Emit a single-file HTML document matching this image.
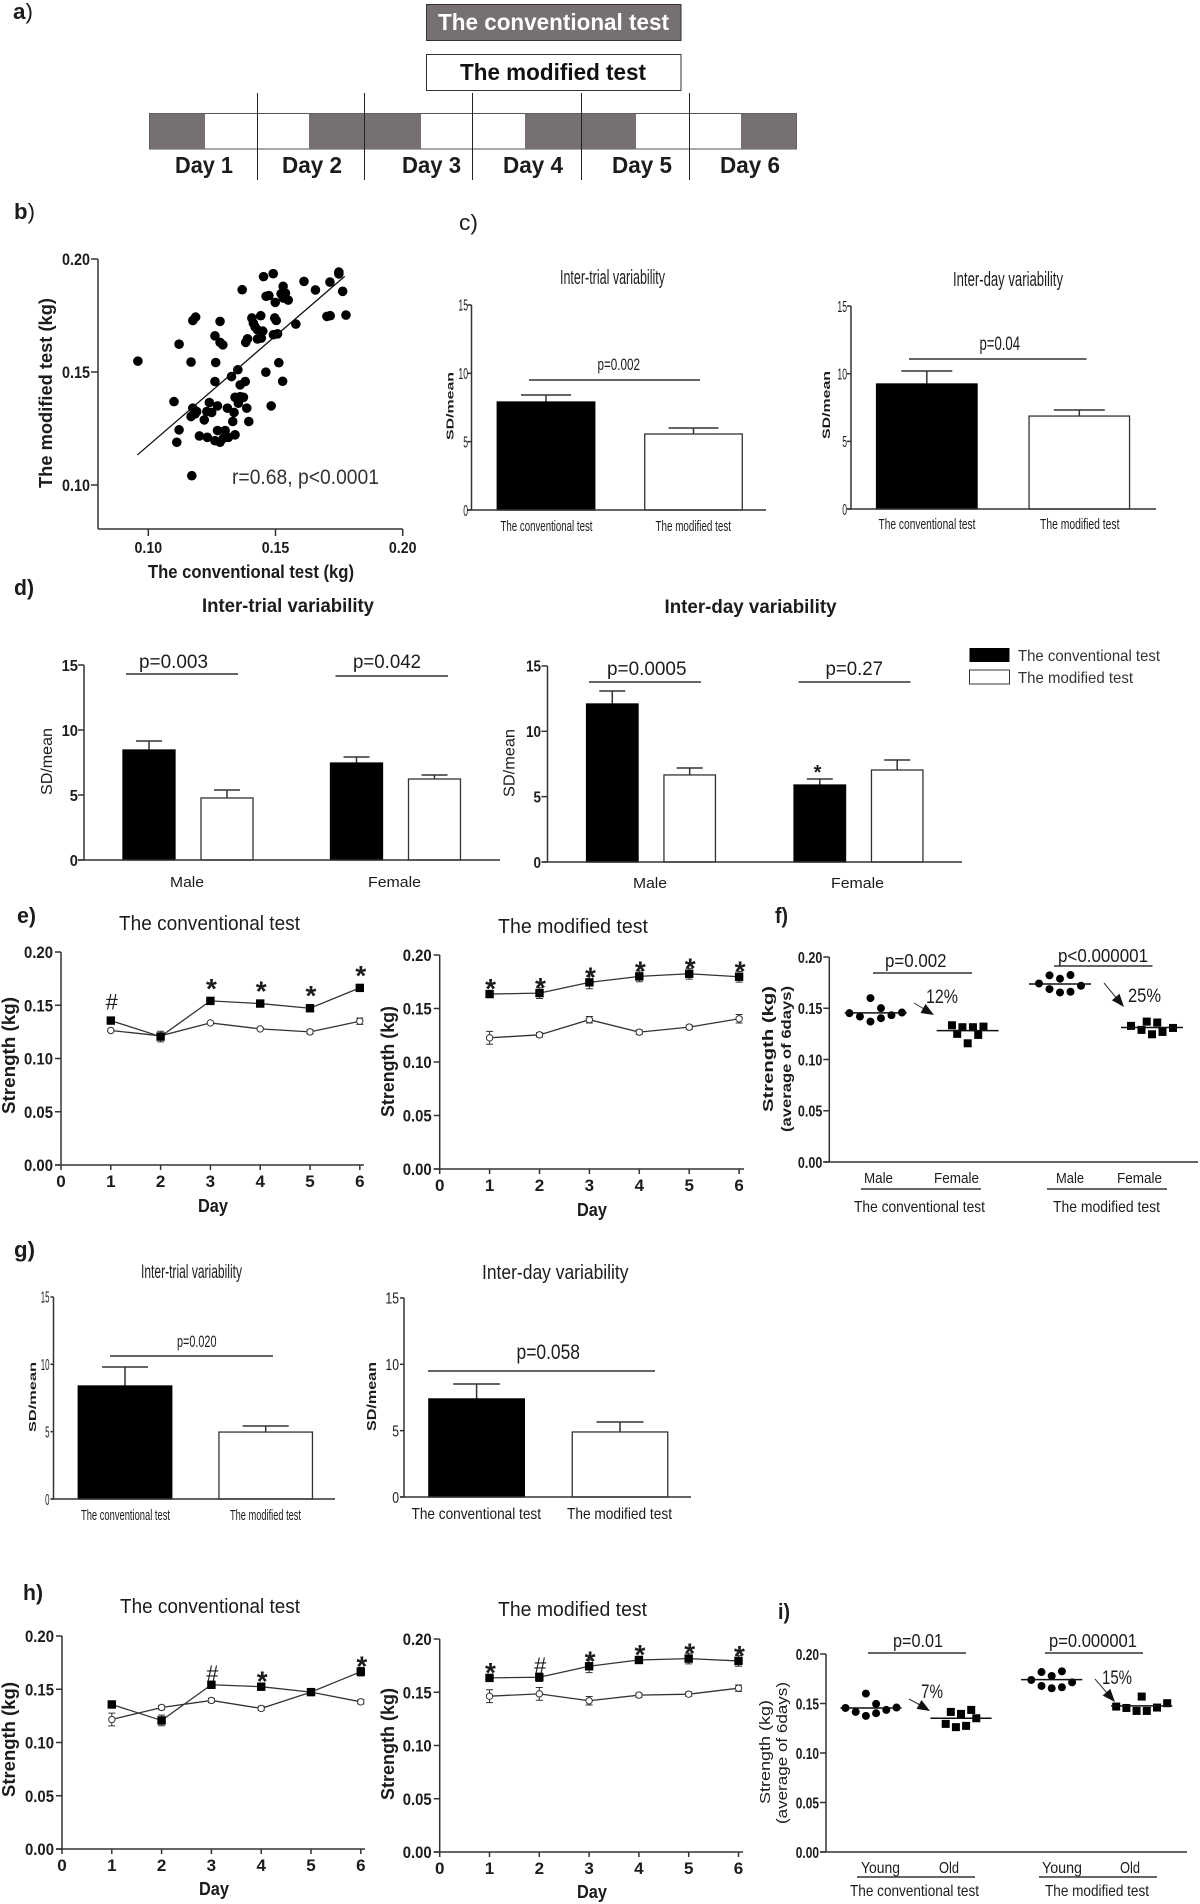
<!DOCTYPE html>
<html lang="en">
<head>
<meta charset="utf-8">
<title>Strength test variability figure</title>
<style>
html,body{margin:0;padding:0;background:#fff;}
svg{display:block;filter:blur(0.35px);}
text{font-family:"Liberation Sans",sans-serif;fill:#1c1c1c;}
.b{font-weight:bold;}
.ln{stroke:#333;stroke-width:1.5;fill:none;}
</style>
</head>
<body>
<svg id="figure" xmlns="http://www.w3.org/2000/svg" width="1200" height="1904" viewBox="0 0 1200 1904">
<rect x="0" y="0" width="1200" height="1904" fill="#fff"/>

<g id="panel-a">
<text x="13" y="19" font-size="22" textLength="20" lengthAdjust="spacingAndGlyphs"><tspan class="b">a</tspan>)</text>
<rect x="426.500" y="4.500" width="254.500" height="36" fill="#767070" stroke="#333" stroke-width="1"/>
<text class="b" x="438" y="30" font-size="23" textLength="231" lengthAdjust="spacingAndGlyphs" style="fill:#fff">The conventional test</text>
<rect x="426.500" y="54.500" width="254.500" height="36" fill="#fff" stroke="#333" stroke-width="1"/>
<text class="b" x="460" y="80" font-size="23" textLength="186" lengthAdjust="spacingAndGlyphs" style="fill:#111">The modified test</text>
<rect x="149.500" y="113.500" width="647" height="35.500" fill="#fff" stroke="#555" stroke-width="1"/>
<rect x="149.500" y="113.500" width="55.500" height="35.500" fill="#767070"/>
<rect x="309" y="113.500" width="112" height="35.500" fill="#767070"/>
<rect x="525" y="113.500" width="111" height="35.500" fill="#767070"/>
<rect x="741" y="113.500" width="55.500" height="35.500" fill="#767070"/>
<path d="M257.500 93V180M364.500 93V180M472.500 93V180M581.500 93V180M689.500 93V180" stroke="#222" stroke-width="1" fill="none"/>
<text class="b" x="175" y="173" font-size="23" textLength="58" lengthAdjust="spacingAndGlyphs">Day 1</text>
<text class="b" x="282" y="173" font-size="23" textLength="60" lengthAdjust="spacingAndGlyphs">Day 2</text>
<text class="b" x="402" y="173" font-size="23" textLength="59" lengthAdjust="spacingAndGlyphs">Day 3</text>
<text class="b" x="503" y="173" font-size="23" textLength="60" lengthAdjust="spacingAndGlyphs">Day 4</text>
<text class="b" x="612" y="173" font-size="23" textLength="60" lengthAdjust="spacingAndGlyphs">Day 5</text>
<text class="b" x="720" y="173" font-size="23" textLength="60" lengthAdjust="spacingAndGlyphs">Day 6</text>
</g>

<g id="panel-b">
<text x="14" y="219" font-size="22" textLength="21" lengthAdjust="spacingAndGlyphs"><tspan class="b">b</tspan>)</text>
<text x="232" y="484" font-size="21" textLength="147" lengthAdjust="spacingAndGlyphs" style="fill:#333">r=0.68, p&lt;0.0001</text>
<text class="b" x="148" y="578" font-size="18" textLength="206" lengthAdjust="spacingAndGlyphs">The conventional test (kg)</text>
<text class="b" transform="translate(52,488) rotate(-90)" font-size="18" textLength="190" lengthAdjust="spacingAndGlyphs">The modified test (kg)</text>
</g>

<g id="panel-c">
<text x="459" y="230" font-size="22" textLength="19" lengthAdjust="spacingAndGlyphs">c)</text>
<text x="560" y="284" font-size="20" textLength="105" lengthAdjust="spacingAndGlyphs">Inter-trial variability</text>
<text x="953" y="286" font-size="20" textLength="110" lengthAdjust="spacingAndGlyphs">Inter-day variability</text>
<text x="597.500" y="370" font-size="17" textLength="42.500" lengthAdjust="spacingAndGlyphs">p=0.002</text>
<line class="ln" x1="529" x2="700" y1="380" y2="380"/>
<text x="979.500" y="350" font-size="19" textLength="40.500" lengthAdjust="spacingAndGlyphs">p=0.04</text>
<line class="ln" x1="909" x2="1086.500" y1="359" y2="359"/>
<text x="500.500" y="531" font-size="15" textLength="92" lengthAdjust="spacingAndGlyphs">The conventional test</text>
<text x="655.500" y="531" font-size="15" textLength="75.500" lengthAdjust="spacingAndGlyphs">The modified test</text>
<text x="878.500" y="529" font-size="15" textLength="97" lengthAdjust="spacingAndGlyphs">The conventional test</text>
<text x="1040" y="529" font-size="15" textLength="79.500" lengthAdjust="spacingAndGlyphs">The modified test</text>
<text class="b" transform="translate(453.500,440) rotate(-90)" font-size="10" textLength="68" lengthAdjust="spacingAndGlyphs">SD/mean</text>
<text class="b" transform="translate(830,439) rotate(-90)" font-size="11" textLength="68" lengthAdjust="spacingAndGlyphs">SD/mean</text>
</g>

<g id="panel-d">
<text class="b" x="14" y="595" font-size="22" textLength="20" lengthAdjust="spacingAndGlyphs">d)</text>
<text class="b" x="202" y="612" font-size="19" textLength="172" lengthAdjust="spacingAndGlyphs">Inter-trial variability</text>
<text class="b" x="664.500" y="613" font-size="19" textLength="172" lengthAdjust="spacingAndGlyphs">Inter-day variability</text>
<text x="139" y="668" font-size="19" textLength="69" lengthAdjust="spacingAndGlyphs">p=0.003</text>
<line class="ln" x1="126" x2="238" y1="674" y2="674"/>
<text x="353" y="668" font-size="19" textLength="68" lengthAdjust="spacingAndGlyphs">p=0.042</text>
<line class="ln" x1="335.500" x2="448" y1="676" y2="676"/>
<text x="170" y="887" font-size="15" textLength="34" lengthAdjust="spacingAndGlyphs">Male</text>
<text x="368" y="887" font-size="15" textLength="53" lengthAdjust="spacingAndGlyphs">Female</text>
<text transform="translate(52,795) rotate(-90)" font-size="16" textLength="67" lengthAdjust="spacingAndGlyphs">SD/mean</text>
<text x="607" y="675" font-size="19" textLength="79.500" lengthAdjust="spacingAndGlyphs">p=0.0005</text>
<line class="ln" x1="589" x2="701" y1="682" y2="682"/>
<text x="825.500" y="675" font-size="19" textLength="57.500" lengthAdjust="spacingAndGlyphs">p=0.27</text>
<line class="ln" x1="798.500" x2="910.500" y1="682" y2="682"/>
<text x="633" y="888" font-size="15" textLength="34" lengthAdjust="spacingAndGlyphs">Male</text>
<text x="831" y="888" font-size="15" textLength="53" lengthAdjust="spacingAndGlyphs">Female</text>
<text transform="translate(514.500,797) rotate(-90)" font-size="16" textLength="68" lengthAdjust="spacingAndGlyphs">SD/mean</text>
<text class="b" x="817.500" y="779" font-size="20" text-anchor="middle">*</text>
<rect x="969.500" y="648" width="40" height="14" fill="#000"/>
<text x="1018" y="661" font-size="16" textLength="142" lengthAdjust="spacingAndGlyphs" style="fill:#333">The conventional  test</text>
<rect x="969.500" y="670" width="40" height="14" fill="#fff" stroke="#333" stroke-width="1"/>
<text x="1018" y="683" font-size="16" textLength="115" lengthAdjust="spacingAndGlyphs" style="fill:#333">The modified test</text>
</g>

<g id="panel-e">
<text class="b" x="17" y="923" font-size="22" textLength="19" lengthAdjust="spacingAndGlyphs">e)</text>
<text x="119" y="930" font-size="20" textLength="181" lengthAdjust="spacingAndGlyphs">The conventional test</text>
<text class="b" x="198" y="1212" font-size="18" textLength="30" lengthAdjust="spacingAndGlyphs">Day</text>
<text class="b" transform="translate(15,1114) rotate(-90)" font-size="18" textLength="117" lengthAdjust="spacingAndGlyphs">Strength (kg)</text>
<text x="498" y="933" font-size="20" textLength="150" lengthAdjust="spacingAndGlyphs">The modified test</text>
<text class="b" x="577" y="1216" font-size="18" textLength="30" lengthAdjust="spacingAndGlyphs">Day</text>
<text class="b" transform="translate(394,1117) rotate(-90)" font-size="18" textLength="111" lengthAdjust="spacingAndGlyphs">Strength (kg)</text>
</g>

<g id="panel-f">
<text class="b" x="775" y="923" font-size="22" textLength="13" lengthAdjust="spacingAndGlyphs">f)</text>
<text x="885" y="967" font-size="18" textLength="61.500" lengthAdjust="spacingAndGlyphs">p=0.002</text>
<line class="ln" x1="873" x2="972" y1="973" y2="973"/>
<text x="1058" y="962" font-size="18" textLength="90" lengthAdjust="spacingAndGlyphs">p&lt;0.000001</text>
<line class="ln" x1="1054" x2="1152.500" y1="966" y2="966"/>
<text x="926" y="1003" font-size="19" textLength="32" lengthAdjust="spacingAndGlyphs">12%</text>
<line x1="914" y1="1003" x2="925" y2="1009.500" stroke="#333" stroke-width="1"/>
<polygon points="934,1015 925.500,1004 920.500,1013" fill="#111"/>
<text x="1128" y="1002" font-size="19" textLength="33" lengthAdjust="spacingAndGlyphs">25%</text>
<line x1="1104" y1="983" x2="1116" y2="997.500" stroke="#333" stroke-width="1"/>
<polygon points="1124,1007 1119.500,993.800 1111.900,1000.200" fill="#111"/>
<text x="864" y="1183" font-size="15" textLength="29" lengthAdjust="spacingAndGlyphs">Male</text>
<text x="934" y="1183" font-size="15" textLength="45" lengthAdjust="spacingAndGlyphs">Female</text>
<text x="1056" y="1183" font-size="15" textLength="28" lengthAdjust="spacingAndGlyphs">Male</text>
<text x="1117" y="1183" font-size="15" textLength="45" lengthAdjust="spacingAndGlyphs">Female</text>
<line class="ln" x1="861" x2="981" y1="1189" y2="1189"/>
<line class="ln" x1="1047" x2="1167" y1="1189" y2="1189"/>
<text x="854" y="1212" font-size="16" textLength="131" lengthAdjust="spacingAndGlyphs">The conventional test</text>
<text x="1053" y="1212" font-size="16" textLength="107" lengthAdjust="spacingAndGlyphs">The modified test</text>
<text class="b" transform="translate(773,1112) rotate(-90)" font-size="15" textLength="126" lengthAdjust="spacingAndGlyphs">Strength (kg)</text>
<text class="b" transform="translate(791,1132) rotate(-90)" font-size="14" textLength="146" lengthAdjust="spacingAndGlyphs">(average of 6days)</text>
</g>

<g id="panel-g">
<text class="b" x="14" y="1257" font-size="22" textLength="21" lengthAdjust="spacingAndGlyphs">g)</text>
<text x="141" y="1278" font-size="19" textLength="101" lengthAdjust="spacingAndGlyphs">Inter-trial variability</text>
<text x="482" y="1279" font-size="20" textLength="146.500" lengthAdjust="spacingAndGlyphs">Inter-day variability</text>
<text x="177" y="1347" font-size="17" textLength="39.500" lengthAdjust="spacingAndGlyphs">p=0.020</text>
<line class="ln" x1="110" x2="273" y1="1356" y2="1356"/>
<text x="516.500" y="1359" font-size="21" textLength="63.500" lengthAdjust="spacingAndGlyphs">p=0.058</text>
<line class="ln" x1="428" x2="655" y1="1371" y2="1371"/>
<text x="81" y="1520" font-size="15" textLength="89" lengthAdjust="spacingAndGlyphs">The conventional test</text>
<text x="230" y="1520" font-size="15" textLength="71" lengthAdjust="spacingAndGlyphs">The modified test</text>
<text x="411.500" y="1519" font-size="16" textLength="129.500" lengthAdjust="spacingAndGlyphs">The conventional test</text>
<text x="567" y="1519" font-size="16" textLength="105" lengthAdjust="spacingAndGlyphs">The modified test</text>
<text class="b" transform="translate(36,1432) rotate(-90)" font-size="10" textLength="70" lengthAdjust="spacingAndGlyphs">SD/mean</text>
<text class="b" transform="translate(376,1431) rotate(-90)" font-size="13" textLength="69" lengthAdjust="spacingAndGlyphs">SD/mean</text>
</g>

<g id="panel-h">
<text class="b" x="23" y="1600" font-size="22" textLength="20" lengthAdjust="spacingAndGlyphs">h)</text>
<text x="120" y="1613" font-size="20" textLength="180" lengthAdjust="spacingAndGlyphs">The conventional test</text>
<text class="b" x="199" y="1895" font-size="18" textLength="30" lengthAdjust="spacingAndGlyphs">Day</text>
<text class="b" transform="translate(15,1797) rotate(-90)" font-size="18" textLength="115" lengthAdjust="spacingAndGlyphs">Strength (kg)</text>
<text x="498" y="1616" font-size="20" textLength="149" lengthAdjust="spacingAndGlyphs">The modified test</text>
<text class="b" x="577" y="1898" font-size="18" textLength="30" lengthAdjust="spacingAndGlyphs">Day</text>
<text class="b" transform="translate(394,1800) rotate(-90)" font-size="18" textLength="112" lengthAdjust="spacingAndGlyphs">Strength (kg)</text>
</g>

<g id="panel-i">
<text class="b" x="778" y="1619" font-size="22" textLength="12" lengthAdjust="spacingAndGlyphs">i)</text>
<text x="893" y="1647" font-size="18" textLength="50" lengthAdjust="spacingAndGlyphs">p=0.01</text>
<line class="ln" x1="868" x2="966" y1="1653" y2="1653"/>
<text x="1049" y="1647" font-size="18" textLength="88" lengthAdjust="spacingAndGlyphs">p=0.000001</text>
<line class="ln" x1="1045" x2="1143" y1="1653" y2="1653"/>
<text x="921" y="1698" font-size="19" textLength="22" lengthAdjust="spacingAndGlyphs">7%</text>
<line x1="909" y1="1699" x2="920" y2="1705" stroke="#333" stroke-width="1"/>
<polygon points="930,1711 921.500,1700 916.500,1708.900" fill="#111"/>
<text x="1102" y="1684" font-size="19" textLength="30" lengthAdjust="spacingAndGlyphs">15%</text>
<line x1="1095" y1="1679" x2="1107" y2="1693" stroke="#333" stroke-width="1"/>
<polygon points="1115,1702 1110.300,1688.900 1102.700,1695.500" fill="#111"/>
<text x="861" y="1873" font-size="16" textLength="39" lengthAdjust="spacingAndGlyphs">Young</text>
<text x="939" y="1873" font-size="16" textLength="20" lengthAdjust="spacingAndGlyphs">Old</text>
<text x="1042" y="1873" font-size="16" textLength="40" lengthAdjust="spacingAndGlyphs">Young</text>
<text x="1120" y="1873" font-size="16" textLength="20" lengthAdjust="spacingAndGlyphs">Old</text>
<line class="ln" x1="857" x2="975" y1="1877" y2="1877"/>
<line class="ln" x1="1039" x2="1157" y1="1877" y2="1877"/>
<text x="850" y="1896" font-size="16" textLength="129" lengthAdjust="spacingAndGlyphs">The conventional test</text>
<text x="1045" y="1896" font-size="16" textLength="104" lengthAdjust="spacingAndGlyphs">The modified test</text>
<text transform="translate(770,1804) rotate(-90)" font-size="15" textLength="104" lengthAdjust="spacingAndGlyphs">Strength (kg)</text>
<text transform="translate(787,1824) rotate(-90)" font-size="15" textLength="142" lengthAdjust="spacingAndGlyphs">(average of 6days)</text>
</g>
</svg>

<script>
/* ---------- panel b ---------- */
const bConventional = [.0959,.1171,.1101,.1121,.1168,.1175,.1186,.1112,.1121,.1168,.1175,.1190,.1184,.1201,.1232,.1220,.1230,.1249,.1240,.1272,.1262,.1265,.1262,.1282,.1282,.1293,.1272,.1302,.1262,.1282,.1295,.1315,.1341,.1311,.1337,.1332,.1327,.1352,.1361,.1381,.1341,.1354,.1361,.1374,.1387,.1395,.1483,.1462,.1513,.1528,.1369,.1383,.1390,.1407,.1413,.1420,.1429,.1450,.1429,.1444,.1442,.1453,.1491,.1463,.1474,.1499,.1497,.1503,.1492,.1508,.1530,.1522,.1539,.1550,.1531,.1580,.1612,.1657,.1714,.1749,.1749,.1764,.1702,.1715,.1777];
const bModified = [.1548,.1041,.1369,.1623,.1544,.1728,.1743,.1189,.1244,.1303,.1340,.1325,.1315,.1217,.1211,.1288,.1325,.1321,.1365,.1350,.1458,.1542,.1660,.1724,.1631,.1620,.1241,.1241,.1196,.1189,.1207,.1211,.1222,.1340,.1321,.1281,.1480,.1510,.1443,.1458,.1388,.1362,.1391,.1388,.1340,.1281,.1350,.1499,.1541,.1459,.1864,.1631,.1647,.1739,.1716,.1699,.1687,.1681,.1646,.1650,.1749,.1922,.1935,.1835,.1838,.1808,.1739,.1728,.1665,.1669,.1879,.1846,.1849,.1818,.1827,.1712,.1901,.1863,.1898,.1942,.1934,.1857,.1746,.1749,.1752];
const bFitX = [.0957,.1772];
const bFitY = [.1133,.1923];
const bTicks = [.10,.15,.20];

/* ---------- panel c ---------- */
const barTicks = [0,5,10,15];
const c1Means = [7.9,5.56];
const c1Errors = [0.51,0.44];
const c2Means = [9.24,6.87];
const c2Errors = [0.96,0.45];

/* ---------- panel d ---------- */
const d1Means = [8.46,4.77,7.46,6.23];
const d1Errors = [0.69,0.61,0.46,0.31];
const d2Means = [12.09,6.66,5.89,7.04];
const d2Errors = [0.99,0.53,0.46,0.76];

/* ---------- panel g ---------- */
const g1Means = [8.39,4.97];
const g1Errors = [1.41,0.45];
const g2Means = [7.39,4.9];
const g2Errors = [1.13,0.75];

/* ---------- line charts ---------- */
const days = [1,2,3,4,5,6];
const dayTicks = [0,1,2,3,4,5,6];
const strengthTicks = [0,0.05,0.10,0.15,0.20];

const e1Filled = [.1356,.1206,.1541,.1516,.1472,.1663];
const e1FilledErr = [.001,.005,.002,.001,.001,.001];
const e1Open = [.1263,.1213,.1334,.1278,.125,.135];
const e1OpenErr = [.001,.002,.001,.001,.002,.003];
const e1Marks = ['#','','*','*','*','*'];

const e2Filled = [.1635,.1644,.1744,.18,.1825,.1797];
const e2FilledErr = [.002,.005,.006,.005,.005,.005];
const e2Open = [.1226,.1254,.1395,.1279,.1326,.1404];
const e2OpenErr = [.006,.002,.003,.002,.002,.004];
const e2Marks = ['*','*','*','*','*','*'];

const h1Filled = [.1357,.1207,.1542,.1524,.1473,.1665];
const h1FilledErr = [.001,.005,.002,.002,.001,.004];
const h1Open = [.1216,.1329,.1395,.132,.1473,.1382];
const h1OpenErr = [.006,.002,.002,.002,.001,.002];
const h1Marks = ['','','#','*','','*'];

const h2Filled = [.1635,.1641,.1744,.1803,.1816,.1794];
const h2FilledErr = [.002,.004,.006,.003,.005,.005];
const h2Open = [.1463,.1485,.142,.1473,.1482,.1538];
const h2OpenErr = [.006,.006,.004,.002,.002,.003];
const h2Marks = ['*','#','*','*','*','*'];

/* ---------- swarm charts ---------- */
const fConvMale = [.1452,.1419,.1599,.137,.1501,.1403,.1432,.1458];
const fConvFemale = [.1334,.125,.1315,.1158,.1315,.124,.1321];
const fModMale = [.1742,.1821,.1687,.1788,.1654,.1824,.1661,.1719];
const fModFemale = [.1328,.1289,.137,.1246,.1361,.1269,.1308];
const fMedians = [.1455,.1282,.1736,.1312];

const iConvYoung = [.1455,.1415,.16,.1375,.1496,.1402,.1435,.1459];
const iConvOld = [.1294,.1415,.1261,.1395,.1274,.1435,.1351];
const iModYoung = [.1738,.1818,.1677,.1778,.1654,.1825,.1664,.1714];
const iModOld = [.1469,.1455,.1425,.157,.1425,.1459,.1503];
const iMedians = [.1455,.1351,.1741,.1476];

/* swarm column slots (beeswarm order within each group) */
const swarmEven = [-5,-3,-1,-1,1,1,3,5];
const swarmSeven = [-3,-2,-1,0,1,2,3];
const swarmSpread = [-4,-2,-2,0,0,2,2,4];
const fModFemaleSlots = [-4,-2,-1,0,1,2,4];
const iModOldSlots = [-5,-3,-1,0,1,3,5];

/* ---------- drawing helpers ---------- */
const SVGNS = 'http://www.w3.org/2000/svg';
function svgEl(tag, attrs, parent) {
  const el = document.createElementNS(SVGNS, tag);
  for (const k in attrs) el.setAttribute(k, attrs[k]);
  parent.appendChild(el);
  return el;
}
function panel(id) { return document.getElementById(id); }

function drawLabel(parent, str, x, y, opt, name) {
  const attrs = { x: x, y: y, 'font-size': opt.size, 'text-anchor': opt.anchor };
  if (opt.charW) {
    attrs.textLength = opt.charW * str.length;
    attrs.lengthAdjust = 'spacingAndGlyphs';
  }
  if (opt.bold) attrs['font-weight'] = 'bold';
  const label = svgEl('text', attrs, parent);
  
  
  label.textContent = str;
  return label;
}

function drawYAxis(parent, prefix, ticks, yOf, fmt, o) {
  const axis = svgEl('line', { class: 'ln', x1: o.x, x2: o.x, y1: yOf(ticks[ticks.length - 1]), y2: yOf(ticks[0]) }, parent);
  
  
  ticks.forEach(function (v) {
    const y = yOf(v);
    const tick = svgEl('line', { class: 'ln', x1: o.x - o.len, x2: o.x, y1: y, y2: y }, parent);
    
    
    drawLabel(parent, fmt(v), o.right, y + o.size * 0.36, { size: o.size, anchor: 'end', charW: o.charW, bold: o.bold }, prefix + '-y-tick-label');
  });
}

function drawBarChart(prefix, parentId, means, errors, o) {
  const parent = panel(parentId);
  const yOf = function (v) { return o.y0 - v * o.unit; };
  drawYAxis(parent, prefix, barTicks, yOf, String, { x: o.x, len: o.tickLen, right: o.right, size: o.size, charW: o.charW, bold: o.bold });
  means.forEach(function (m, i) {
    const cx = o.xOf(i);
    const filled = o.isFilled(i);
    const errLine = svgEl('path', { class: 'ln', d: 'M' + (cx - o.cap) + ' ' + yOf(m + errors[i]) + 'H' + (cx + o.cap) + 'M' + cx + ' ' + yOf(m + errors[i]) + 'V' + yOf(m) }, parent);
    
    
    const bar = svgEl('rect', { x: cx - o.w / 2, y: yOf(m), width: o.w, height: o.y0 - yOf(m), fill: filled ? '#000' : '#fff', stroke: filled ? '#000' : '#333', 'stroke-width': 1.3 }, parent);
    
    
  });
  const baseLine = svgEl('line', { class: 'ln', x1: o.x - o.tickLen, x2: o.xEnd, y1: o.y0, y2: o.y0 }, parent);
  
  
}

function drawLineChart(prefix, parentId, filled, filledErr, open, openErr, marks, o) {
  const parent = panel(parentId);
  const xOf = function (d) { return o.x0 + d * o.step; };
  const yOf = function (v) { return o.y0 - v * o.scale; };
  drawYAxis(parent, prefix, strengthTicks, yOf, function (v) { return v.toFixed(2); }, { x: o.x0, len: 6, right: o.x0 - 8, size: 17, charW: 7.25, bold: true });
  const xAxis = svgEl('line', { class: 'ln', x1: o.x0 - 6, x2: o.xEnd, y1: o.y0, y2: o.y0 }, parent);
  
  
  dayTicks.forEach(function (d) {
    const tick = svgEl('line', { class: 'ln', x1: xOf(d), x2: xOf(d), y1: o.y0, y2: o.y0 + 5 }, parent);
    
    
    drawLabel(parent, String(d), xOf(d), o.y0 + 22, { size: 17, anchor: 'middle', bold: true }, prefix + '-x-tick-label');
  });
  function series(values, errs, isFilled) {
    const points = days.map(function (d, i) { return xOf(d) + ',' + yOf(values[i]); }).join(' ');
    const path = svgEl('polyline', { points: points, fill: 'none', stroke: '#333', 'stroke-width': 1.3 }, parent);
    
    
    days.forEach(function (d, i) {
      const x = xOf(d);
      const hi = yOf(values[i] + errs[i]);
      const lo = yOf(values[i] - errs[i]);
      const err = svgEl('path', { d: 'M' + (x - 3.5) + ' ' + hi + 'H' + (x + 3.5) + 'M' + x + ' ' + hi + 'V' + lo + 'M' + (x - 3.5) + ' ' + lo + 'H' + (x + 3.5), stroke: '#333', 'stroke-width': 1, fill: 'none' }, parent);
      
      
      if (isFilled) {
        const sq = svgEl('rect', { x: x - 4.2, y: yOf(values[i]) - 4.2, width: 8.4, height: 8.4, fill: '#000' }, parent);
        
        
      } else {
        const ci = svgEl('circle', { cx: x, cy: yOf(values[i]), r: 3.2, fill: '#fff', stroke: '#333', 'stroke-width': 1 }, parent);
        
        
      }
    });
  }
  series(open, openErr, false);
  series(filled, filledErr, true);
  marks.forEach(function (m, i) {
    if (!m) return;
    const cx = xOf(days[i]) + 1;
    const cy = yOf(filled[i]) - o.markGap;
    if (m === '*') {
      drawLabel(parent, m, cx, cy + 16, { size: 28, anchor: 'middle', bold: true }, prefix + '-significance-star');
    } else {
      drawLabel(parent, m, cx, cy + 8, { size: 22, anchor: 'middle' }, prefix + '-significance-hash');
    }
  });
}

function drawSwarmChart(prefix, parentId, groups, slots, medians, o) {
  const parent = panel(parentId);
  const yOf = function (v) { return o.y0 - v * o.scale; };
  drawYAxis(parent, prefix, strengthTicks, yOf, function (v) { return v.toFixed(2); }, { x: o.x, len: 6, right: o.x - 7, size: 16, charW: o.charW, bold: true });
  const xAxis = svgEl('line', { class: 'ln', x1: o.x - 6, x2: o.xEnd, y1: o.y0, y2: o.y0 }, parent);
  
  
  groups.forEach(function (values, g) {
    const cx = o.centers[g];
    values.forEach(function (v, i) {
      const x = cx + slots[g][i] * o.pitch;
      if (g % 2 === 0) {
        const dot = svgEl('circle', { cx: x, cy: yOf(v), r: 4, fill: '#000' }, parent);
        
        
      } else {
        const sq = svgEl('rect', { x: x - 4, y: yOf(v) - 4, width: 8, height: 8, fill: '#000' }, parent);
        
        
      }
    });
    const med = svgEl('line', { x1: cx - o.half, x2: cx + o.half, y1: yOf(medians[g]), y2: yOf(medians[g]), stroke: '#111', 'stroke-width': 1.5 }, parent);
    
    
  });
}

/* ---------- panel b draw ---------- */
(function () {
  const parent = panel('panel-b');
  const xOf = function (v) { return 148.3 + (v - 0.10) * 2544; };
  const yOf = function (v) { return 485 - (v - 0.10) * 2260; };
  const fmt = function (v) { return v.toFixed(2); };
  drawYAxis(parent, 'b', bTicks, yOf, fmt, { x: 98, len: 7, right: 90, size: 17, charW: 7, bold: true });
  const yExt = svgEl('line', { class: 'ln', x1: 98, x2: 98, y1: yOf(0.10), y2: 529 }, parent);
  
  
  const xAxis = svgEl('line', { class: 'ln', x1: 98, x2: xOf(0.20), y1: 529, y2: 529 }, parent);
  
  
  bTicks.forEach(function (v) {
    const tick = svgEl('line', { class: 'ln', x1: xOf(v), x2: xOf(v), y1: 529, y2: 536 }, parent);
    
    
    drawLabel(parent, fmt(v), xOf(v), 553, { size: 16, anchor: 'middle', charW: 6.9, bold: true }, 'b-x-tick-label');
  });
  bConventional.forEach(function (v, i) {
    const dot = svgEl('circle', { cx: xOf(v), cy: yOf(bModified[i]), r: 4.8, fill: '#000' }, parent);
    
    
  });
  const fit = svgEl('line', { x1: xOf(bFitX[0]), y1: yOf(bFitY[0]), x2: xOf(bFitX[1]), y2: yOf(bFitY[1]), stroke: '#111', 'stroke-width': 1.3 }, parent);
  
  
})();

/* ---------- bars ---------- */
const oddFilled = function (i) { return i % 2 === 0; };
drawBarChart('c1', 'panel-c', c1Means, c1Errors, { y0: 510, unit: 13.67, x: 471.5, xEnd: 766, tickLen: 4, right: 468, size: 16, charW: 4.8, w: 97.5, cap: 25, xOf: function (i) { return 546 + i * 147.5; }, isFilled: oddFilled });
drawBarChart('c2', 'panel-c', c2Means, c2Errors, { y0: 509, unit: 13.53, x: 851, xEnd: 1156, tickLen: 4, right: 847, size: 16, charW: 4.8, w: 100.5, cap: 25.5, xOf: function (i) { return 926.8 + i * 152.5; }, isFilled: oddFilled });
drawBarChart('d1', 'panel-d', d1Means, d1Errors, { y0: 860, unit: 13, x: 84, xEnd: 500, tickLen: 6, right: 78, size: 16, charW: 8.2, bold: true, w: 52, cap: 13, xOf: function (i) { return 188 + Math.floor(i / 2) * 207.5 + (i % 2 === 0 ? -39 : 39); }, isFilled: oddFilled });
drawBarChart('d2', 'panel-d', d2Means, d2Errors, { y0: 862, unit: 13.07, x: 547.5, xEnd: 962, tickLen: 6, right: 541, size: 16, charW: 7.5, bold: true, w: 51.5, cap: 13, xOf: function (i) { return 651 + Math.floor(i / 2) * 207.5 + (i % 2 === 0 ? -38.7 : 38.7); }, isFilled: oddFilled });
drawBarChart('g1', 'panel-g', g1Means, g1Errors, { y0: 1499, unit: 13.47, x: 53.5, xEnd: 335, tickLen: 3, right: 49.5, size: 16, charW: 4.4, w: 93.5, cap: 23, xOf: function (i) { return 125 + i * 140.7; }, isFilled: oddFilled });
drawBarChart('g2', 'panel-g', g2Means, g2Errors, { y0: 1497, unit: 13.27, x: 404, xEnd: 691, tickLen: 4, right: 399, size: 16, charW: 6.8, w: 95.5, cap: 23.5, xOf: function (i) { return 476.6 + i * 143.4; }, isFilled: oddFilled });

/* ---------- lines ---------- */
drawLineChart('e1', 'panel-e', e1Filled, e1FilledErr, e1Open, e1OpenErr, e1Marks, { x0: 61, step: 49.8, xEnd: 364, y0: 1165, scale: 1065, markGap: 19 });
drawLineChart('e2', 'panel-e', e2Filled, e2FilledErr, e2Open, e2OpenErr, e2Marks, { x0: 439.7, step: 49.9, xEnd: 744, y0: 1169, scale: 1070, markGap: 12 });
drawLineChart('h1', 'panel-h', h1Filled, h1FilledErr, h1Open, h1OpenErr, h1Marks, { x0: 62, step: 49.8, xEnd: 365, y0: 1849, scale: 1065, markGap: 12 });
drawLineChart('h2', 'panel-h', h2Filled, h2FilledErr, h2Open, h2OpenErr, h2Marks, { x0: 439.7, step: 49.8, xEnd: 743, y0: 1852, scale: 1065, markGap: 12 });

/* ---------- swarms ---------- */
drawSwarmChart('f', 'panel-f', [fConvMale, fConvFemale, fModMale, fModFemale], [swarmEven, swarmSeven, swarmSpread, fModFemaleSlots], fMedians, { x: 829.3, xEnd: 1198, y0: 1162, scale: 1025, charW: 6.1, centers: [875.7, 967.7, 1060, 1152], pitch: 5.25, half: 31 });
drawSwarmChart('i', 'panel-i', [iConvYoung, iConvOld, iModYoung, iModOld], [swarmEven, swarmSeven, swarmSpread, iModOldSlots], iMedians, { x: 826, xEnd: 1187, y0: 1852, scale: 990, charW: 5.8, centers: [871, 961, 1051.7, 1141.7], pitch: 5.1, half: 30.6 });
</script>
</body>
</html>
